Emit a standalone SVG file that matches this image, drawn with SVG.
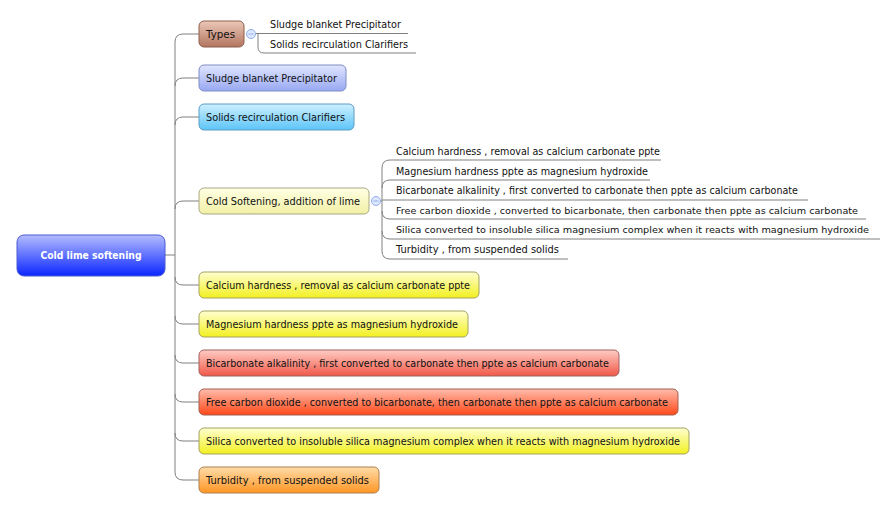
<svg xmlns="http://www.w3.org/2000/svg" width="894" height="510" viewBox="0 0 894 510">
<defs>
<linearGradient id="gCentral" x1="0" y1="0" x2="0" y2="1"><stop offset="0" stop-color="#b4bcff"/><stop offset="1" stop-color="#0a26ff"/></linearGradient>
<linearGradient id="gTypes" x1="0" y1="0" x2="0" y2="1"><stop offset="0" stop-color="#ecc8b8"/><stop offset="1" stop-color="#b27560"/></linearGradient>
<linearGradient id="gBlue" x1="0" y1="0" x2="0" y2="1"><stop offset="0" stop-color="#e0e6ff"/><stop offset="1" stop-color="#98a8f2"/></linearGradient>
<linearGradient id="gCyan" x1="0" y1="0" x2="0" y2="1"><stop offset="0" stop-color="#cdf0ff"/><stop offset="1" stop-color="#5cc4f8"/></linearGradient>
<linearGradient id="gPale" x1="0" y1="0" x2="0" y2="1"><stop offset="0" stop-color="#ffffe4"/><stop offset="1" stop-color="#f2f0a4"/></linearGradient>
<linearGradient id="gYellow" x1="0" y1="0" x2="0" y2="1"><stop offset="0" stop-color="#ffffd0"/><stop offset="1" stop-color="#f2f020"/></linearGradient>
<linearGradient id="gSalmon" x1="0" y1="0" x2="0" y2="1"><stop offset="0" stop-color="#ffccc4"/><stop offset="1" stop-color="#f05848"/></linearGradient>
<linearGradient id="gRed" x1="0" y1="0" x2="0" y2="1"><stop offset="0" stop-color="#ffbcac"/><stop offset="1" stop-color="#ff4818"/></linearGradient>
<linearGradient id="gOrange" x1="0" y1="0" x2="0" y2="1"><stop offset="0" stop-color="#ffdca8"/><stop offset="1" stop-color="#ff9624"/></linearGradient>
</defs>
<style>
.t{font-family:"DejaVu Sans","Liberation Sans",sans-serif;font-size:10.5px;fill:#111;}
.s{font-size:9.5px;}
.c{font-family:"DejaVu Sans","Liberation Sans",sans-serif;font-size:11px;font-weight:bold;fill:#fff;}
.box{stroke-width:1;}
.ln{fill:none;stroke:#808080;stroke-width:1;}
.col{fill:#dde7ff;stroke:#90aee8;stroke-width:1;}
.minus{stroke:#90aee8;stroke-width:1;}
</style>
<rect width="894" height="510" fill="#fff"/>
<g id="connectors">
<path class="ln" d="M165,255 H175"/>
<path class="ln" d="M199,34 H183 Q175,34 175,42 V472 Q175,480 183,480 H199"/>
<path class="ln" d="M175,86 Q175,78 183,78 H199"/>
<path class="ln" d="M175,125 Q175,117 183,117 H199"/>
<path class="ln" d="M175,209 Q175,201 183,201 H199"/>
<path class="ln" d="M175,277 Q175,285 183,285 H199"/>
<path class="ln" d="M175,316 Q175,324 183,324 H199"/>
<path class="ln" d="M175,355 Q175,363 183,363 H199"/>
<path class="ln" d="M175,394 Q175,402 183,402 H199"/>
<path class="ln" d="M175,433 Q175,441 183,441 H199"/>
<path class="ln" d="M256,33.5 H408"/>
<path class="ln" d="M258,33.5 V47 Q258,53 264,53 H416"/>
<path class="ln" d="M381,201 H382"/>
<path class="ln" d="M661,160 H390 Q382,160 382,168 V251 Q382,259 390,259 H568"/>
<path class="ln" d="M382,188 Q382,180 390,180 H650"/>
<path class="ln" d="M382,200 H808"/>
<path class="ln" d="M382,211 Q382,219 390,219 H866"/>
<path class="ln" d="M382,231 Q382,239 390,239 H880"/>
</g>
<g id="central">
<rect class="box" x="17" y="235" width="148" height="41" rx="7" fill="url(#gCentral)" stroke="#4a5ad0"/>
<text class="c" x="91" y="259" text-anchor="middle" textLength="101" lengthAdjust="spacingAndGlyphs">Cold lime softening</text>
</g>
<g id="types">
<rect class="box" x="199" y="21" width="45" height="26" rx="5" fill="url(#gTypes)" stroke="#8e5e4c"/>
<text class="t" x="206" y="38" textLength="29" lengthAdjust="spacingAndGlyphs">Types</text>
<circle class="col" cx="251" cy="34" r="4.5"/>
<path class="minus" d="M248.5,34 H253.5"/>
</g>
<g id="types-sludge">
<text class="t" x="270" y="28" textLength="131" lengthAdjust="spacingAndGlyphs">Sludge blanket Precipitator</text>
</g>
<g id="types-solids">
<text class="t" x="270" y="48" textLength="138" lengthAdjust="spacingAndGlyphs">Solids recirculation Clarifiers</text>
</g>
<g id="sludge">
<rect class="box" x="199" y="65" width="147" height="26" rx="5" fill="url(#gBlue)" stroke="#7e8cc4"/>
<text class="t" x="206" y="82" textLength="131" lengthAdjust="spacingAndGlyphs">Sludge blanket Precipitator</text>
</g>
<g id="solids">
<rect class="box" x="199" y="104" width="155" height="26" rx="5" fill="url(#gCyan)" stroke="#5c9cc4"/>
<text class="t" x="206" y="121" textLength="139" lengthAdjust="spacingAndGlyphs">Solids recirculation Clarifiers</text>
</g>
<g id="cold">
<rect class="box" x="199" y="188" width="170" height="26" rx="5" fill="url(#gPale)" stroke="#aaa884"/>
<text class="t" x="206" y="205" textLength="154" lengthAdjust="spacingAndGlyphs">Cold Softening, addition of lime</text>
<circle class="col" cx="376" cy="201" r="4.5"/>
<path class="minus" d="M373.5,201 H378.5"/>
</g>
<g id="cold-sub1"><text class="t" x="396" y="155" textLength="264" lengthAdjust="spacingAndGlyphs">Calcium hardness , removal as calcium carbonate ppte</text></g>
<g id="cold-sub2"><text class="t" x="396" y="175" textLength="252" lengthAdjust="spacingAndGlyphs">Magnesium hardness ppte as magnesium hydroxide</text></g>
<g id="cold-sub3"><text class="t" x="396" y="194" textLength="402" lengthAdjust="spacingAndGlyphs">Bicarbonate alkalinity , first converted to carbonate then ppte as calcium carbonate</text></g>
<g id="cold-sub4"><text class="t s" x="396" y="214" textLength="462" lengthAdjust="spacingAndGlyphs">Free carbon dioxide , converted to bicarbonate, then carbonate then ppte as calcium carbonate</text></g>
<g id="cold-sub5"><text class="t s" x="396" y="233" textLength="473" lengthAdjust="spacingAndGlyphs">Silica converted to insoluble silica magnesium complex when it reacts with magnesium hydroxide</text></g>
<g id="cold-sub6"><text class="t" x="396" y="253" textLength="163" lengthAdjust="spacingAndGlyphs">Turbidity , from suspended solids</text></g>
<g id="calcium">
<rect class="box" x="199" y="272" width="280" height="26" rx="5" fill="url(#gYellow)" stroke="#a4a260"/>
<text class="t" x="206" y="289" textLength="264" lengthAdjust="spacingAndGlyphs">Calcium hardness , removal as calcium carbonate ppte</text>
</g>
<g id="magnesium">
<rect class="box" x="199" y="311" width="269" height="26" rx="5" fill="url(#gYellow)" stroke="#a4a260"/>
<text class="t" x="206" y="328" textLength="252" lengthAdjust="spacingAndGlyphs">Magnesium hardness ppte as magnesium hydroxide</text>
</g>
<g id="bicarbonate">
<rect class="box" x="199" y="350" width="420" height="26" rx="5" fill="url(#gSalmon)" stroke="#a06060"/>
<text class="t" x="206" y="367" textLength="403" lengthAdjust="spacingAndGlyphs">Bicarbonate alkalinity , first converted to carbonate then ppte as calcium carbonate</text>
</g>
<g id="freecarbon">
<rect class="box" x="199" y="389" width="479" height="26" rx="5" fill="url(#gRed)" stroke="#a06050"/>
<text class="t" x="206" y="406" textLength="462" lengthAdjust="spacingAndGlyphs">Free carbon dioxide , converted to bicarbonate, then carbonate then ppte as calcium carbonate</text>
</g>
<g id="silica">
<rect class="box" x="199" y="428" width="490" height="26" rx="5" fill="url(#gYellow)" stroke="#a4a260"/>
<text class="t" x="206" y="445" textLength="474" lengthAdjust="spacingAndGlyphs">Silica converted to insoluble silica magnesium complex when it reacts with magnesium hydroxide</text>
</g>
<g id="turbidity">
<rect class="box" x="199" y="467" width="180" height="26" rx="5" fill="url(#gOrange)" stroke="#ac8050"/>
<text class="t" x="206" y="484" textLength="163" lengthAdjust="spacingAndGlyphs">Turbidity , from suspended solids</text>
</g>
</svg>
